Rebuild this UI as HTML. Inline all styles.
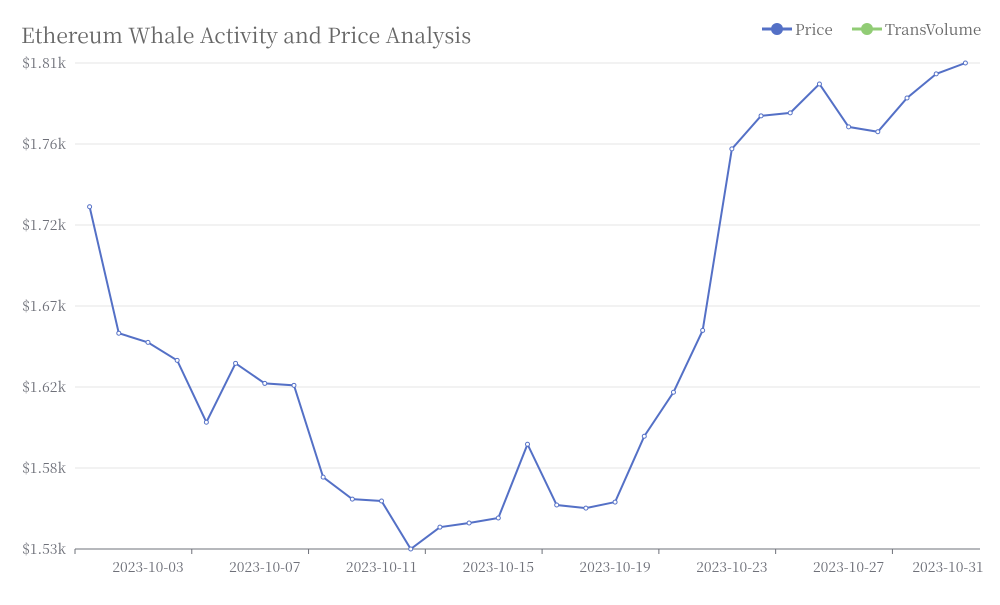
<!DOCTYPE html>
<html><head><meta charset="utf-8"><style>
body{margin:0;background:#fff;}
svg text{font-family:"Noto Serif CJK SC","Liberation Serif",serif;}
</style></head><body>
<svg id="c" width="1000" height="600" xmlns="http://www.w3.org/2000/svg">
<text x="21" y="43" font-size="21" fill="#666">Ethereum Whale Activity and Price Analysis</text>
<g>
<line x1="762" y1="29" x2="792" y2="29" stroke="#5470c6" stroke-width="3"/>
<circle cx="777" cy="29" r="6" fill="#5470c6"/>
<text x="795" y="35" font-size="15" fill="#666">Price</text></g>
<g>
<line x1="852" y1="29" x2="882" y2="29" stroke="#91cc75" stroke-width="3"/>
<circle cx="867" cy="29" r="6" fill="#91cc75"/>
<text x="885" y="35" font-size="15" fill="#666">TransVolume</text></g>
<g id="grid"></g><g id="xax"></g><g id="series"></g>
</svg>
<script>
const dates=[];for(let d=1;d<=31;d++)dates.push('2023-10-'+String(d).padStart(2,'0'));
const prices=[1727,1654,1648.7,1638.3,1602.6,1636.6,1625,1623.9,1570.9,1558.2,1557.1,1529.4,1542,1544.4,1547.3,1589.9,1554.8,1553,1556.5,1594.5,1619.9,1655.6,1760.4,1779.5,1781.2,1797.9,1773.1,1770.3,1789.8,1803.7,1810];
const yMin=1529.4,yMax=1810;
const X0=75,X1=980,Y0=549,Y1=63;
const ns='http://www.w3.org/2000/svg';
function mk(t,a,p){const e=document.createElementNS(ns,t);for(const k in a)e.setAttribute(k,a[k]);p.appendChild(e);return e;}
const bw=(X1-X0)/dates.length;
const xs=i=>X0+bw*(i+0.5);
const ys=v=>Y0-(v-yMin)/(yMax-yMin)*(Y0-Y1);
const grid=document.getElementById('grid'),xax=document.getElementById('xax'),ser=document.getElementById('series');
for(let k=0;k<=6;k++){const v=yMin+(yMax-yMin)*k/6,y=ys(v);
 if(k>0){const l=mk('line',{x1:X0,x2:X1,y1:y,y2:y,stroke:'#e6e6e6'},grid);
 
 }
 const t=mk('text',{x:66,y:y+5,'text-anchor':'end','font-size':14,fill:'#6e7079'},grid);
 t.textContent='$'+(v/1000).toFixed(2)+'k';
 
 }
const ax=mk('line',{x1:X0,x2:X1,y1:Y0,y2:Y0,stroke:'#6e7079'},xax);


for(let k=0;k<=dates.length;k+=4){const x=X0+bw*k;mk('line',{x1:x,x2:x,y1:Y0,y2:Y0+5,stroke:'#6e7079'},xax);}
for(let i=2;i<dates.length;i+=4){const t=mk('text',{x:Math.min(xs(i),948),y:572,'text-anchor':'middle','font-size':14,fill:'#6e7079'},xax);
 t.textContent=dates[i];
 
 }
const pl=mk('polyline',{points:prices.map((v,i)=>xs(i)+','+ys(v)).join(' '),fill:'none',stroke:'#5470c6','stroke-width':2},ser);


prices.forEach((v,i)=>{const c=mk('circle',{cx:xs(i),cy:ys(v),r:2,fill:'#fff',stroke:'#5470c6','stroke-width':1},ser);
 
 });
</script>
</body></html>
